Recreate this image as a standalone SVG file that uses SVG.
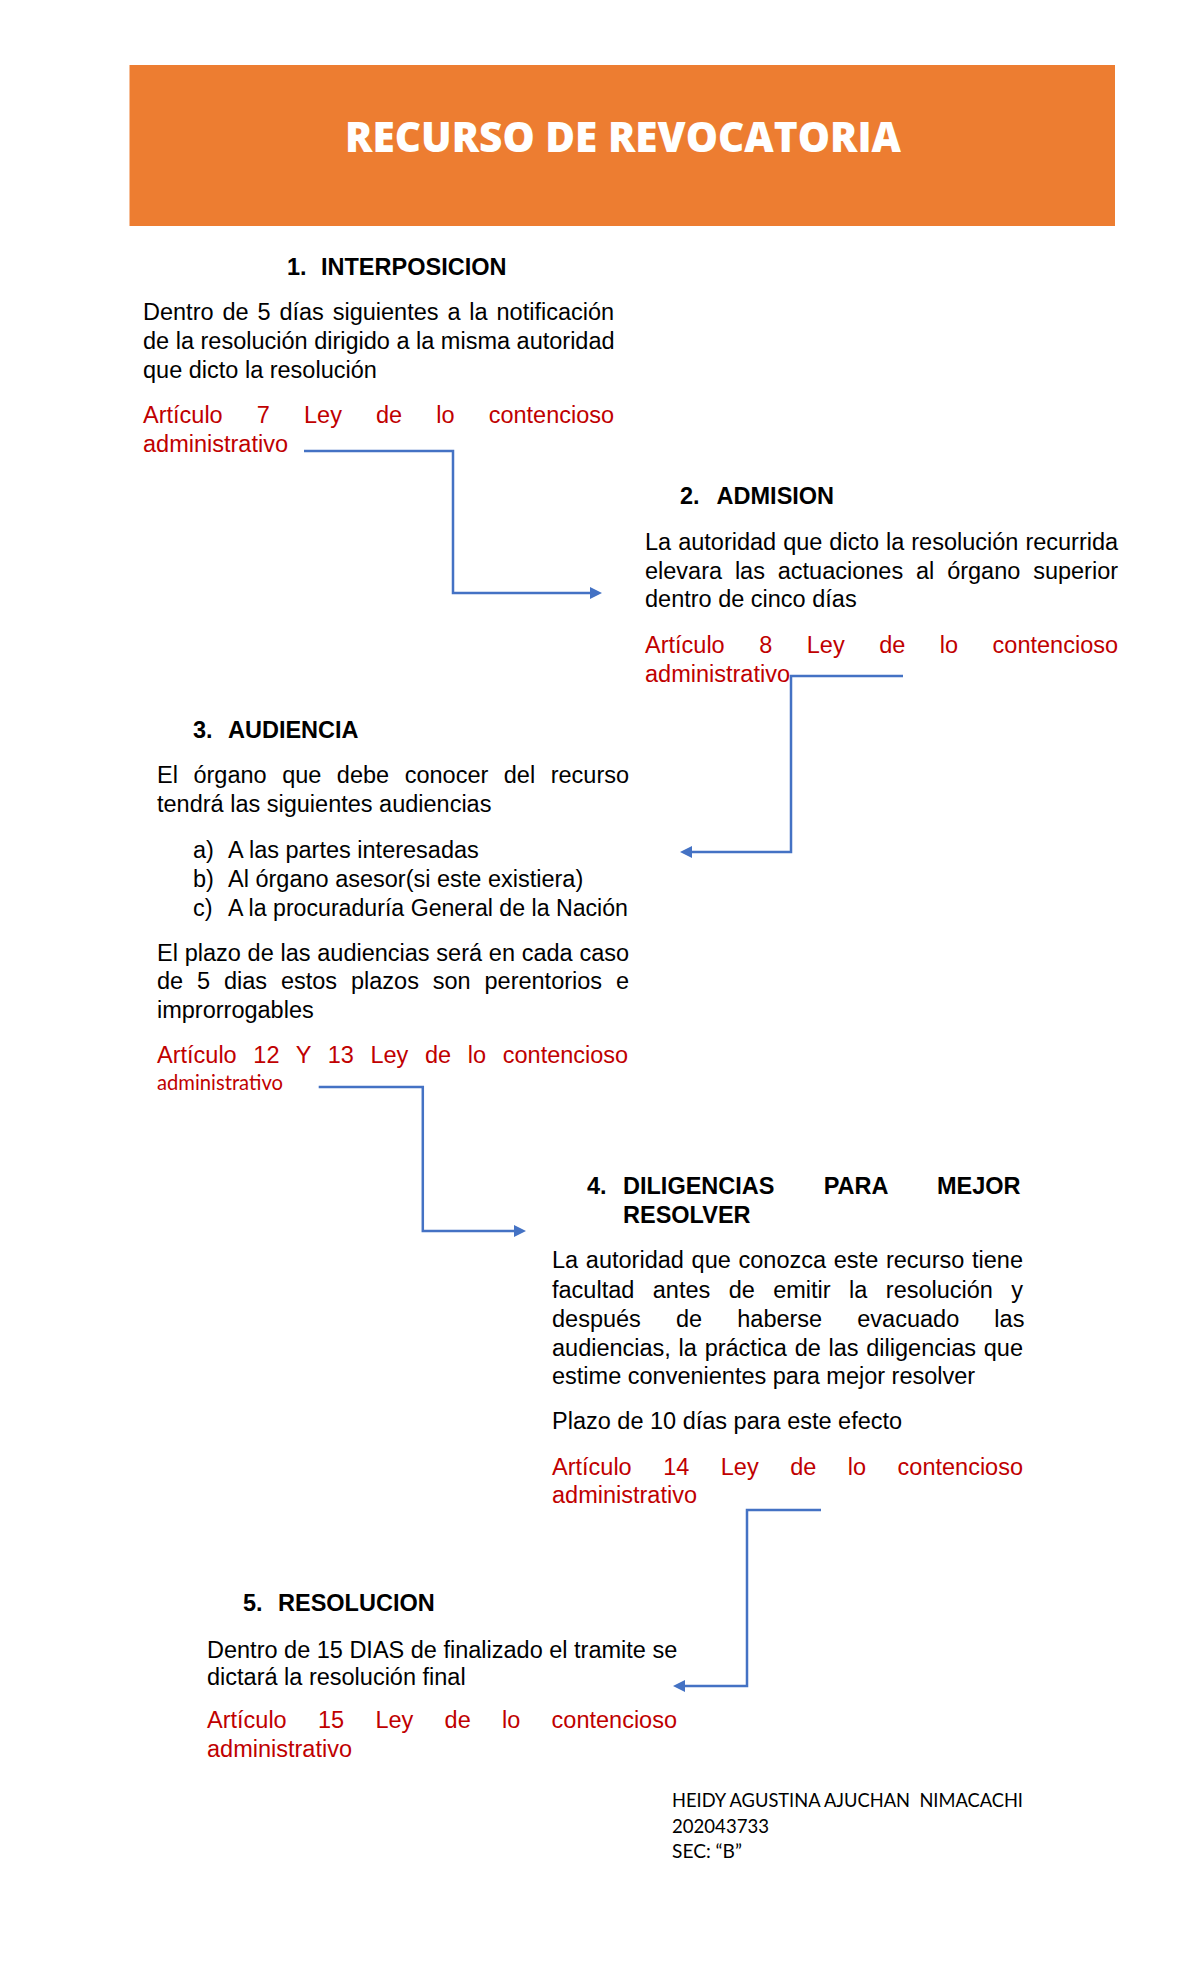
<svg xmlns="http://www.w3.org/2000/svg" width="1200" height="1976" viewBox="0 0 1200 1976">
<style>
.t{font-family:"Liberation Sans",Arial,sans-serif;font-size:23.5px;fill:#000}
.h{font-weight:bold}
.r{fill:#C00000}
.cal{font-family:Lato,"Open Sans",sans-serif}
.c{stroke:#4472C4;stroke-width:2.5;fill:none;marker-end:url(#ah)}
</style>
<defs>
<marker id="ah" markerUnits="userSpaceOnUse" markerWidth="14" markerHeight="12" refX="4" refY="6" orient="auto"><path d="M0,0 L12,6 L0,12 z" fill="#4472C4"/></marker>
</defs>
<rect width="1200" height="1976" fill="#fff"/>
<g id="header">
<rect x="129.5" y="65" width="985.5" height="161" fill="#ED7D31"/>
<text x="345" y="151.7" textLength="556" lengthAdjust="spacingAndGlyphs" style="font-family:'Open Sans',sans-serif;font-weight:800;font-size:42px;fill:#fff">RECURSO DE REVOCATORIA</text>
</g>
<g id="node-1">
<text class="t h" x="287" y="275">1.</text>
<text class="t h" x="321" y="275">INTERPOSICION</text>
<text class="t" x="143" y="320" style="word-spacing:2.35px">Dentro de 5 días siguientes a la notificación</text>
<text class="t" x="143" y="349">de la resolución dirigido a la misma autoridad</text>
<text class="t" x="143" y="378">que dicto la resolución</text>
<text class="t r" x="143" y="423" style="word-spacing:27.6px">Artículo 7 Ley de lo contencioso</text>
<text class="t r" x="143" y="452">administrativo</text>
</g>
<g id="node-2">
<text class="t h" x="680" y="504">2.</text>
<text class="t h" x="716.6" y="504">ADMISION</text>
<text class="t" x="645" y="550" style="word-spacing:0.47px">La autoridad que dicto la resolución recurrida</text>
<text class="t" x="645" y="579" style="word-spacing:6.3px">elevara las actuaciones al órgano superior</text>
<text class="t" x="645" y="607">dentro de cinco días</text>
<text class="t r" x="645" y="653" style="word-spacing:27.98px">Artículo 8 Ley de lo contencioso</text>
<text class="t r" x="645" y="682">administrativo</text>
</g>
<g id="node-3">
<text class="t h" x="193" y="738">3.</text>
<text class="t h" x="228" y="738">AUDIENCIA</text>
<text class="t" x="157" y="783" style="word-spacing:9px">El órgano que debe conocer del recurso</text>
<text class="t" x="157" y="812">tendrá las siguientes audiencias</text>
<text class="t" x="193" y="858">a)</text>
<text class="t" x="228" y="858">A las partes interesadas</text>
<text class="t" x="193" y="887">b)</text>
<text class="t" x="228" y="887">Al órgano asesor(si este existiera)</text>
<text class="t" x="193" y="916">c)</text>
<text class="t" x="228" y="916" textLength="400" lengthAdjust="spacingAndGlyphs">A la procuraduría General de la Nación</text>
<text class="t" x="157" y="961" style="word-spacing:0.22px">El plazo de las audiencias será en cada caso</text>
<text class="t" x="157" y="989" style="word-spacing:7.34px">de 5 dias estos plazos son perentorios e</text>
<text class="t" x="157" y="1018">improrrogables</text>
<text class="t r" x="157" y="1063" style="word-spacing:10.14px">Artículo 12 Y 13 Ley de lo contencioso</text>
<text class="r cal" x="157" y="1090" font-size="21.5" textLength="126" lengthAdjust="spacingAndGlyphs">administrativo</text>
</g>
<g id="node-4">
<text class="t h" x="587" y="1194">4.</text>
<text class="t h" x="623" y="1194" style="word-spacing:42.7px">DILIGENCIAS PARA MEJOR</text>
<text class="t h" x="623" y="1223">RESOLVER</text>
<text class="t" x="552" y="1268" style="word-spacing:1.2px">La autoridad que conozca este recurso tiene</text>
<text class="t" x="552" y="1298" style="word-spacing:11.9px">facultad antes de emitir la resolución y</text>
<text class="t" x="552" y="1327" style="word-spacing:28.6px">después de haberse evacuado las</text>
<text class="t" x="552" y="1356" style="word-spacing:1.2px">audiencias, la práctica de las diligencias que</text>
<text class="t" x="552" y="1384">estime convenientes para mejor resolver</text>
<text class="t" x="552" y="1429">Plazo de 10 días para este efecto</text>
<text class="t r" x="552" y="1475" style="word-spacing:24.96px">Artículo 14 Ley de lo contencioso</text>
<text class="t r" x="552" y="1503">administrativo</text>
</g>
<g id="node-5">
<text class="t h" x="243" y="1611">5.</text>
<text class="t h" x="278" y="1611">RESOLUCION</text>
<text class="t" x="207" y="1658">Dentro de 15 DIAS de finalizado el tramite se</text>
<text class="t" x="207" y="1685">dictará la resolución final</text>
<text class="t r" x="207" y="1728" style="word-spacing:24.76px">Artículo 15 Ley de lo contencioso</text>
<text class="t r" x="207" y="1757">administrativo</text>
</g>
<g id="footer" class="cal" font-size="18.5" fill="#000">
<text x="672" y="1807" xml:space="preserve" textLength="351" lengthAdjust="spacingAndGlyphs">HEIDY AGUSTINA AJUCHAN  NIMACACHI</text>
<text x="672" y="1833" textLength="97" lengthAdjust="spacingAndGlyphs">202043733</text>
<text x="672" y="1858" textLength="70" lengthAdjust="spacingAndGlyphs">SEC: “B”</text>
</g>
<g id="connectors">
<path class="c" d="M304,451 H453 V593 H594"/>
<path class="c" d="M903,676 H791 V852 H688"/>
<path class="c" d="M318.7,1087 H422.8 V1231 H518"/>
<path class="c" d="M821,1510 H747 V1686 H681"/>
</g>
</svg>
